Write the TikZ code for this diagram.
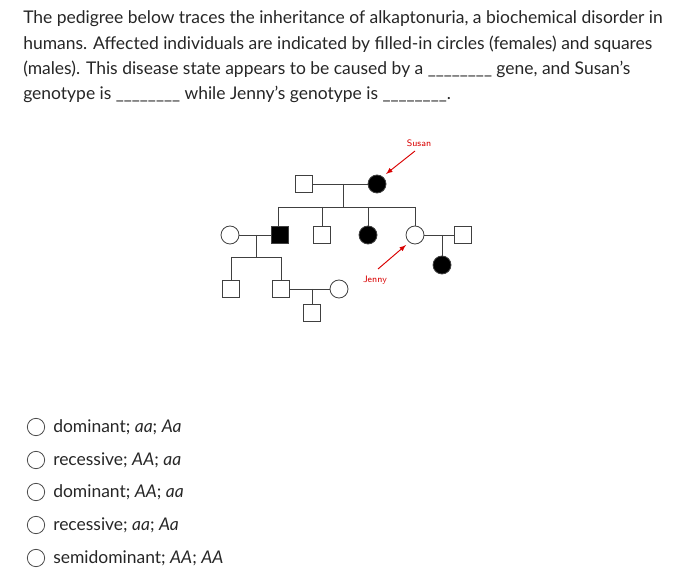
\documentclass[tikz,border=0pt]{standalone}
\usepackage{fontspec}
\setmainfont{Lato}
\begin{document}
\begin{tikzpicture}[x=0.75pt,y=-0.75pt,
  txt/.style={anchor=west,inner sep=0pt,font=\fontsize{13.1}{15}\selectfont,text=black!85},
  sq/.style={draw=black!75,line width=0.6pt,minimum size=12.5pt,inner sep=0pt,fill=white},
  fsq/.style={sq,fill=black},
  ci/.style={draw=black!75,circle,line width=0.6pt,minimum size=13.5pt,inner sep=0pt,fill=white},
  fci/.style={ci,fill=black},
  ln/.style={draw=black!75,line width=0.6pt},
  lab/.style={text=red!85!black,font=\sffamily\fontsize{7}{8}\selectfont,inner sep=0pt},
  arr/.style={red!85!black,line width=0.7pt,-latex},
  opt/.style={draw=black!70,circle,minimum size=13pt,inner sep=0pt,line width=0.6pt}]
\useasboundingbox (0,0) rectangle (684,580);
\node[txt] (l1) at (23,19) {The pedigree below traces the inheritance of alkaptonuria, a biochemical disorder in};
\node[txt] (l2) at (23,44) {humans. Affected individuals are indicated by filled-in circles (females) and squares};
\node[txt] (l3) at (23,69) {(males). This disease state appears to be caused by a \_\_\_\_\_\_\_\_ gene, and Susan's};
\node[txt] (l4) at (23,94) {genotype is \_\_\_\_\_\_\_\_ while Jenny's genotype is \_\_\_\_\_\_\_\_.};
% pedigree
\coordinate (m1) at (343,184);
\coordinate (d1) at (343,207);
\coordinate (sl) at (278,207);
\coordinate (sr) at (415,207);
\coordinate (c22) at (322,207);
\coordinate (c23) at (368,207);
\draw[ln] (304,184) -- (377,184);
\draw[ln] (m1) -- (d1);
\draw[ln] (sl) -- (sr);
\draw[ln] (278,207) -- (278,235);
\draw[ln] (c22) -- (322,235);
\draw[ln] (c23) -- (368,235);
\draw[ln] (sr) -- (415,235);
\draw[ln] (230,235) -- (280,235);
\draw[ln] (256,235) -- (256,257) ;
\draw[ln] (231,257) -- (281,257);
\draw[ln] (231,257) -- (231,289);
\draw[ln] (281,257) -- (281,289);
\draw[ln] (281,289) -- (339,289);
\draw[ln] (312,289) -- (312,313);
\draw[ln] (415,235) -- (463,235);
\draw[ln] (442,235) -- (442,265);
\node[sq] (f1) at (304,184) {};
\node[fci] (susan) at (377,184) {};
\node[ci] (w2) at (230,235) {};
\node[fsq] (a2) at (280,235) {};
\node[sq] (b2) at (322,235) {};
\node[fci] (c2) at (368,235) {};
\node[ci] (jenny) at (415,235) {};
\node[sq] (h2) at (463,235) {};
\node[fci] (g3d) at (442,265) {};
\node[sq] (g3a) at (231,289) {};
\node[sq] (g3b) at (281,289) {};
\node[ci] (g3w) at (339,289) {};
\node[sq] (g4) at (312,313) {};
\node[lab] (sl1) at (419,143) {Susan};
\node[lab] (jl) at (375,280) {Jenny};
\draw[arr] (415,151) -- (386,174);
\draw[arr] (378,269) -- (406,245);
% options
\foreach \y/\t [count=\i] in {427/{dominant; \textit{aa}; \textit{Aa}},460/{recessive; \textit{AA}; \textit{aa}},492/{dominant; \textit{AA}; \textit{aa}},525/{recessive; \textit{aa}; \textit{Aa}},558/{semidominant; \textit{AA}; \textit{AA}}}{
  \node[opt] (o\i) at (36,\y) {};
  \node[txt] (t\i) at (53,\y) {\t};
}
\end{tikzpicture}
\end{document}
